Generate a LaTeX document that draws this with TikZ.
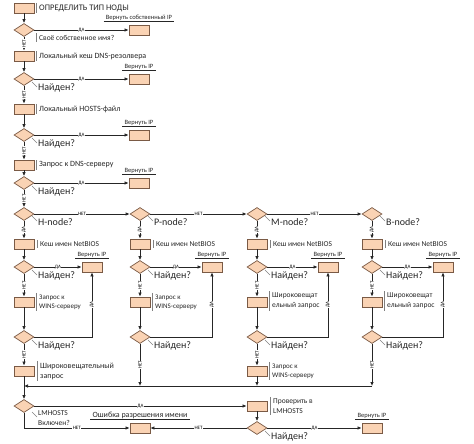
\documentclass[tikz,border=0pt]{standalone}
\usepackage{fontspec}
\setmainfont{Carlito}
\usetikzlibrary{arrows.meta,positioning,shapes.geometric}
\definecolor{peach}{HTML}{FAD3B4}
\definecolor{edge}{HTML}{7A5A45}
\definecolor{ink}{HTML}{262626}

\begin{document}
\begin{tikzpicture}[x=1pt, y=-1pt,
        box/.style={rectangle, draw=edge, fill=peach, minimum width=20pt,
            minimum height=10pt, inner sep=0pt, line width=0.8pt},
        decision/.style={diamond, draw=edge, fill=peach, minimum width=20pt,
            minimum height=13pt, inner sep=0pt, line width=0.7pt},
        flow/.style={-{Latex[length=4pt,width=3.5pt]}, line width=0.75pt, draw=ink},
        yn/.style={font=\fontsize{5}{5.5}\selectfont, fill=white, inner sep=0.4pt},
        annot/.style={draw=gray, line width=0.5pt},
        note/.style={anchor=west, align=left, text=ink, inner xsep=0pt, inner ysep=1.5pt,
            font=\fontsize{8}{9.5}\selectfont,
            append after command={([xshift=-2.5pt]\tikzlastnode.north west)
                edge[annot] ([xshift=-2.5pt]\tikzlastnode.south west)}},
        ask/.style={anchor=west, align=left, text=ink, inner sep=0pt,
            font=\fontsize{10}{11}\selectfont,
            append after command={([shift={(-1,-1)}]\tikzlastnode.west)
                edge[annot] ([shift={(-6,-6)}]\tikzlastnode.west)}},
        retnote/.style={text=ink, inner xsep=2pt, inner ysep=1pt,
            font=\fontsize{6.5}{7}\selectfont,
            append after command={(\tikzlastnode.south west)
                edge[annot, draw=ink] (\tikzlastnode.south east)}},
    ]
        \useasboundingbox (0,0) rectangle (474,444);

        % Main column
        \node[box] (type) at (24,8) {};
        \node[note, font=\fontsize{8.5}{10}\selectfont] at (39,8) {ОПРЕДЕЛИТЬ ТИП НОДЫ};
        \node[decision] (dOwn) at (24,30) {};
        \node[note, font=\fontsize{7.5}{9}\selectfont] at (39,37.5) {Своё собственное имя?};
        \node[box] (rOwn) at (139,30) {};
        \node[retnote, above=3pt of rOwn] {Вернуть собственный IP};

        \node[box] (cDns) at (24,56) {};
        \node[note] at (39,56) {Локальный кеш DNS-резолвера};
        \node[decision] (dDns) at (24,79) {};
        \node[ask] at (38,88) {Найден?};
        \node[box] (rDns) at (139,79) {};
        \node[retnote, above=3pt of rDns] {Вернуть IP};

        \node[box] (hosts) at (24,109) {};
        \node[note] at (39,109) {Локальный HOSTS-файл};
        \node[decision] (dHosts) at (24,135) {};
        \node[ask] at (38,144) {Найден?};
        \node[box] (rHosts) at (139,135) {};
        \node[retnote, above=3pt of rHosts] {Вернуть IP};

        \node[box] (qDns) at (24,165) {};
        \node[note] at (39,165) {Запрос к DNS-серверу};
        \node[decision] (dQdns) at (24,183) {};
        \node[ask] at (38,192) {Найден?};
        \node[box] (rQdns) at (139,183) {};
        \node[retnote, above=3pt of rQdns] {Вернуть IP};

        % Node types
        \node[decision] (hnode) at (24,214) {};
        \node[ask] at (38,222) {H-node?};
        \node[decision] (pnode) at (140,214) {};
        \node[ask] at (154,222) {P-node?};
        \node[decision] (mnode) at (257,214) {};
        \node[ask] at (271,222) {M-node?};
        \node[decision] (bnode) at (372,214) {};
        \node[ask] at (386,222) {B-node?};

        % NetBIOS cache
        \node[box] (nbA) at (24,244) {};
        \node[note, font=\fontsize{7.5}{9}\selectfont] at (40,244) {Кеш имен NetBIOS};
        \node[box] (nbB) at (140,244) {};
        \node[note, font=\fontsize{7.5}{9}\selectfont] at (156,244) {Кеш имен NetBIOS};
        \node[box] (nbC) at (257,244) {};
        \node[note, font=\fontsize{7.5}{9}\selectfont] at (273,244) {Кеш имен NetBIOS};
        \node[box] (nbD) at (372,244) {};
        \node[note, font=\fontsize{7.5}{9}\selectfont] at (388,244) {Кеш имен NetBIOS};

        \node[decision] (dNbA) at (24,267) {};
        \node[ask] at (38,276) {Найден?};
        \node[decision] (dNbB) at (140,267) {};
        \node[ask] at (154,276) {Найден?};
        \node[decision] (dNbC) at (257,267) {};
        \node[ask] at (271,276) {Найден?};
        \node[decision] (dNbD) at (372,267) {};
        \node[ask] at (386,276) {Найден?};

        \node[box] (rA) at (92,267) {};
        \node[retnote, above=3pt of rA] {Вернуть IP};
        \node[box] (rB) at (212,267) {};
        \node[retnote, above=3pt of rB] {Вернуть IP};
        \node[box] (rC) at (328,267) {};
        \node[retnote, above=3pt of rC] {Вернуть IP};
        \node[box] (rD) at (443,267) {};
        \node[retnote, above=3pt of rD] {Вернуть IP};

        % Second lookup
        \node[box] (winsA) at (24,302) {};
        \node[note, font=\fontsize{7}{9}\selectfont] at (39,302) {Запрос к\\WINS-серверу};
        \node[box] (winsB) at (140,302) {};
        \node[note, font=\fontsize{7}{9}\selectfont] at (155,302) {Запрос к\\WINS-серверу};
        \node[box] (bcC) at (257,302) {};
        \node[note, font=\fontsize{7.5}{10}\selectfont] at (272,301) {Широковещат\\ельный запрос};
        \node[box] (bcD) at (372,302) {};
        \node[note, font=\fontsize{7.5}{10}\selectfont] at (387,301) {Широковещат\\ельный запрос};

        \node[decision] (dWinsA) at (24,337) {};
        \node[ask] at (38,346) {Найден?};
        \node[decision] (dWinsB) at (140,337) {};
        \node[ask] at (154,346) {Найден?};
        \node[decision] (dBcC) at (257,337) {};
        \node[ask] at (271,346) {Найден?};
        \node[decision] (dBcD) at (372,337) {};
        \node[ask] at (386,346) {Найден?};

        \node[box] (bcA) at (24,371) {};
        \node[note, font=\fontsize{8}{10}\selectfont] at (40,371) {Широковещательный\\запрос};
        \node[box] (winsC) at (257,371) {};
        \node[note, font=\fontsize{7}{9}\selectfont] at (272,371) {Запрос к\\WINS-серверу};

        \coordinate (mA) at (24,386);
        \coordinate (mB) at (140,386);
        \coordinate (mC) at (257,386);
        \coordinate (mD) at (372,386);

        % LMHOSTS
        \node[decision] (lmh) at (24,406) {};
        \node[ask, font=\fontsize{7.5}{10}\selectfont] at (38,418) {LMHOSTS\\Включен?};
        \node[box] (chk) at (257,406) {};
        \node[note, font=\fontsize{7.5}{10}\selectfont] at (273,406) {Проверить в\\LMHOSTS};
        \node[decision] (dChk) at (257,428) {};
        \node[ask] at (271,437) {Найден?};
        \node[box] (rChk) at (372,428) {};
        \node[retnote, above=3pt of rChk] {Вернуть IP};
        \node[box] (err) at (140,428) {};
        \node[retnote, above=3pt of err, font=\fontsize{8}{9}\selectfont] {Ошибка разрешения имени};

        % Flows
        \draw[flow] (type) -- (dOwn);
        \draw[flow] (dOwn) -- node[yn] {ДА} (rOwn);
        \draw[flow] (dOwn) -- node[yn, rotate=90] {НЕТ} (cDns);
        \draw[flow] (cDns) -- (dDns);
        \draw[flow] (dDns) -- node[yn] {ДА} (rDns);
        \draw[flow] (dDns) -- node[yn, rotate=90] {НЕТ} (hosts);
        \draw[flow] (hosts) -- (dHosts);
        \draw[flow] (dHosts) -- node[yn] {ДА} (rHosts);
        \draw[flow] (dHosts) -- node[yn, rotate=90] {НЕТ} (qDns);
        \draw[flow] (qDns) -- (dQdns);
        \draw[flow] (dQdns) -- node[yn] {ДА} (rQdns);
        \draw[flow] (dQdns) -- node[yn, rotate=90] {НЕТ} (hnode);

        \draw[flow] (hnode) -- node[yn] {НЕТ} (pnode);
        \draw[flow] (pnode) -- node[yn] {НЕТ} (mnode);
        \draw[flow] (mnode) -- node[yn] {НЕТ} (bnode);

        \draw[flow] (hnode) -- node[yn, rotate=90] {ДА} (nbA);
        \draw[flow] (pnode) -- node[yn, rotate=90] {ДА} (nbB);
        \draw[flow] (mnode) -- node[yn, rotate=90] {ДА} (nbC);
        \draw[flow] (bnode) -- node[yn, rotate=90] {ДА} (nbD);
        \draw[flow] (nbA) -- (dNbA);
        \draw[flow] (nbB) -- (dNbB);
        \draw[flow] (nbC) -- (dNbC);
        \draw[flow] (nbD) -- (dNbD);
        \draw[flow] (dNbA) -- node[yn] {ДА} (rA);
        \draw[flow] (dNbB) -- node[yn] {ДА} (rB);
        \draw[flow] (dNbC) -- node[yn] {ДА} (rC);
        \draw[flow] (dNbD) -- node[yn] {ДА} (rD);
        \draw[flow] (dNbA) -- node[yn, rotate=90] {НЕТ} (winsA);
        \draw[flow] (dNbB) -- node[yn, rotate=90] {НЕТ} (winsB);
        \draw[flow] (dNbC) -- node[yn, rotate=90] {НЕТ} (bcC);
        \draw[flow] (dNbD) -- node[yn, rotate=90] {НЕТ} (bcD);
        \draw[flow] (winsA) -- (dWinsA);
        \draw[flow] (winsB) -- (dWinsB);
        \draw[flow] (bcC) -- (dBcC);
        \draw[flow] (bcD) -- (dBcD);
        \draw[flow] (dWinsA) -| node[yn, pos=0.75, rotate=90] {ДА} (rA);
        \draw[flow] (dWinsB) -| node[yn, pos=0.75, rotate=90] {ДА} (rB);
        \draw[flow] (dBcC) -| node[yn, pos=0.75, rotate=90] {ДА} (rC);
        \draw[flow] (dBcD) -| node[yn, pos=0.75, rotate=90] {ДА} (rD);

        \draw[flow] (dWinsA) -- node[yn, rotate=90] {НЕТ} (bcA);
        \draw[flow] (dWinsB) -- node[yn, rotate=90] {НЕТ} (mB);
        \draw[flow] (dBcC) -- node[yn, rotate=90] {НЕТ} (winsC);
        \draw[flow] (winsC) -- (mC);
        \draw[flow] (dBcD) -- node[yn, rotate=90] {НЕТ} (mD);
        \draw[flow] (mD) -- (mA);
        \draw[flow] (bcA) -- (lmh);

        \draw[flow] (lmh) -- node[yn] {ДА} (chk);
        \draw[flow] (lmh) |- node[yn, pos=0.75] {НЕТ} (err);
        \draw[flow] (chk) -- (dChk);
        \draw[flow] (dChk) -- node[yn] {ДА} (rChk);
        \draw[flow] (dChk) -- node[yn] {НЕТ} (err);
    \end{tikzpicture}
\end{document}
